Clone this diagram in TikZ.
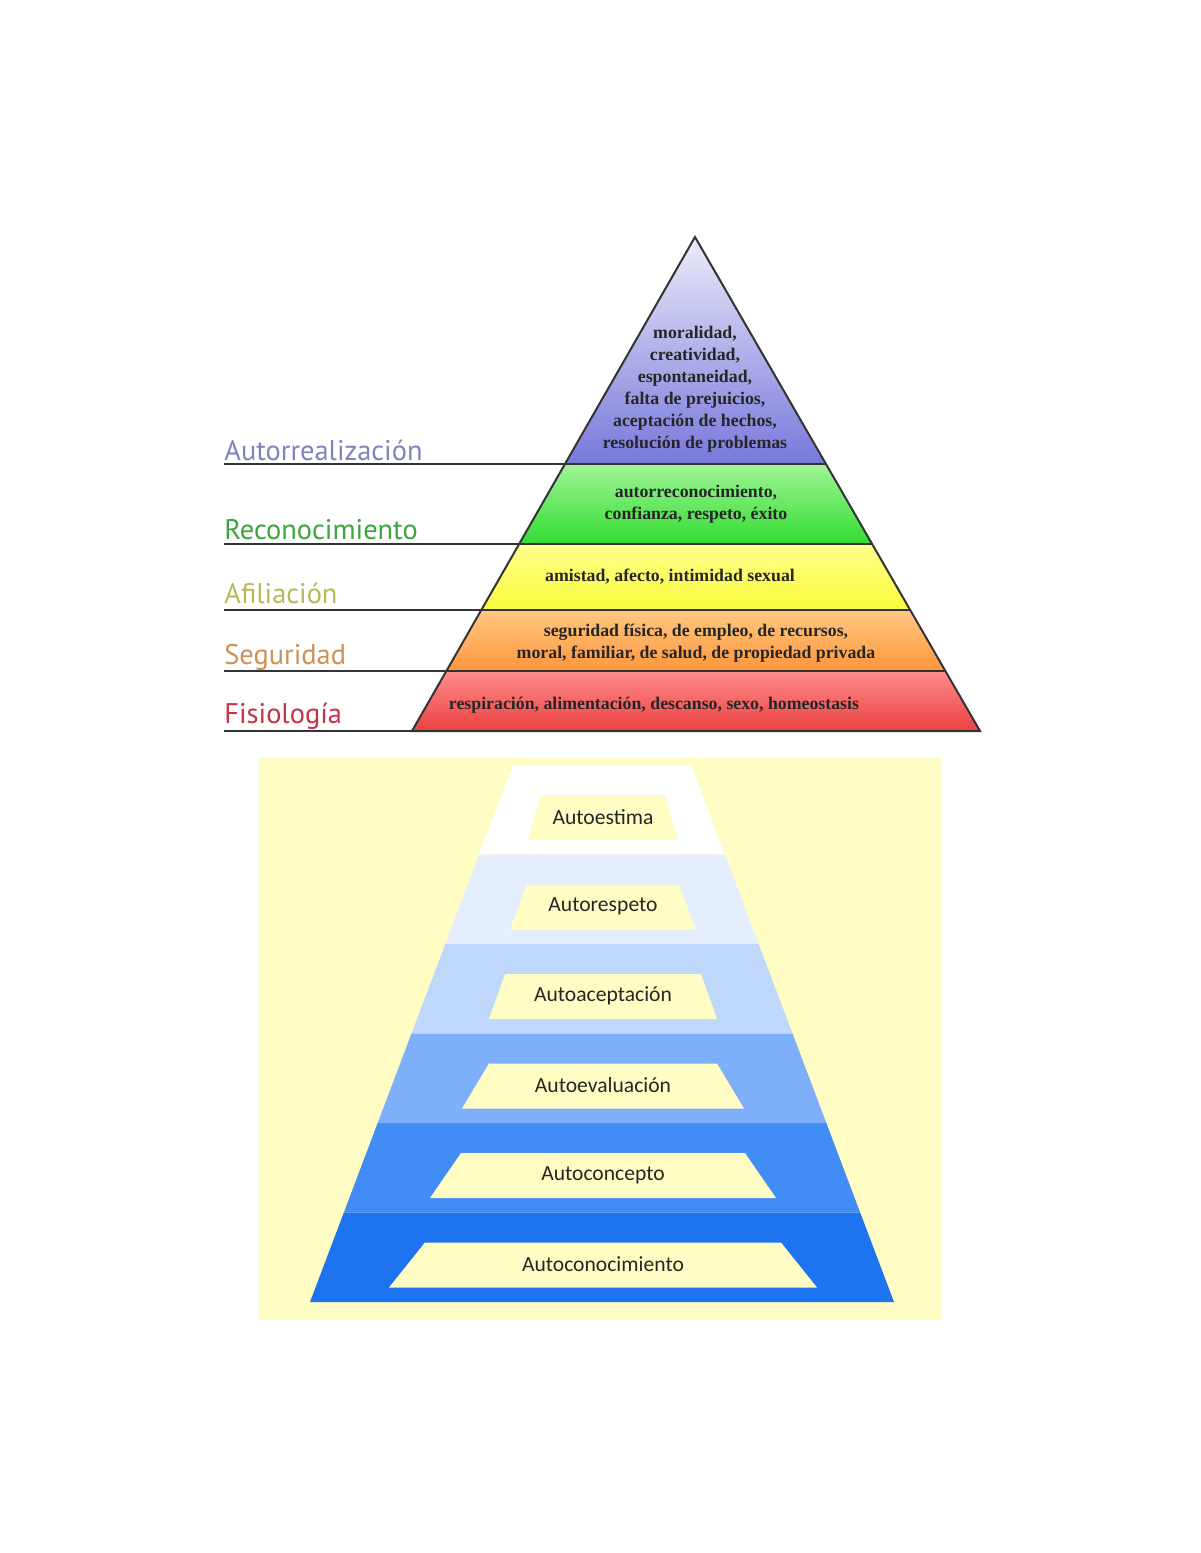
\documentclass[tikz,border=0pt]{standalone}
\usepackage{fontspec}
\setmainfont{Liberation Serif}
\newfontfamily\labfont{PT Sans}
\newfontfamily\carfont{Carlito}
\begin{document}
\begin{tikzpicture}[x=0.5pt,y=-0.5pt,
  lv/.style={font=\labfont\fontsize{14.2}{15}\selectfont,anchor=base west,inner sep=0pt},
  inner/.style={font=\bfseries\fontsize{8.9}{11}\selectfont,align=center,text=black!85,inner sep=0pt},
  band/.style={font=\carfont\fontsize{10.8}{12}\selectfont,text=black!85,inner sep=0pt},
  sep/.style={line width=1pt,black!80}]
\useasboundingbox (0,0) rectangle (1200,1553);
\fill[white] (0,0) rectangle (1200,1553);
\definecolor{cA}{RGB}{130,130,190}\definecolor{cR}{RGB}{60,165,60}
\definecolor{cF}{RGB}{185,185,90}\definecolor{cS}{RGB}{205,145,85}\definecolor{cP}{RGB}{200,50,70}
\definecolor{bgy}{RGB}{255,253,195}
% top pyramid
\coordinate (apex) at (695,237);
\shade[top color={rgb,255:red,235;green,235;blue,250},bottom color={rgb,255:red,120;green,120;blue,220}] (695,237) -- (826,464) -- (565,464) -- cycle;
\shade[top color={rgb,255:red,160;green,245;blue,150},bottom color={rgb,255:red,50;green,220;blue,50}] (565,464) -- (826,464) -- (872,544) -- (519,544) -- cycle;
\shade[top color={rgb,255:red,255;green,255;blue,140},bottom color={rgb,255:red,250;green,250;blue,60}] (519,544) -- (872,544) -- (910,610) -- (481,610) -- cycle;
\shade[top color={rgb,255:red,255;green,200;blue,130},bottom color={rgb,255:red,255;green,150;blue,60}] (481,610) -- (910,610) -- (945,671) -- (446,671) -- cycle;
\shade[top color={rgb,255:red,255;green,140;blue,140},bottom color={rgb,255:red,235;green,65;blue,65}] (446,671) -- (945,671) -- (980,731) -- (412,731) -- cycle;
\draw[sep] (apex) -- (980,731) -- (412,731) -- cycle;
\foreach \yy/\rr in {464/826,544/872,610/910,671/945}{
  \draw[sep] (224,\yy) -- (\rr,\yy);}
\draw[sep] (224,731) -- (412,731);
\node[lv,text=cA] (l1) at (224,460) {Autorrealización};
\node[lv,text=cR] (l2) at (224,539) {Reconocimiento};
\node[lv,text=cF] (l3) at (224,603) {Afiliación};
\node[lv,text=cS] (l4) at (224,664) {Seguridad};
\node[lv,text=cP] (l5) at (224,723) {Fisiología};
\node[inner] (t1) at (695,389) {moralidad,\\creatividad,\\espontaneidad,\\falta de prejuicios,\\aceptación de hechos,\\resolución de problemas};
\node[inner] (t2) at (696,504) {autorreconocimiento,\\confianza, respeto, éxito};
\node[inner] (t3) at (670,577) {amistad, afecto, intimidad sexual};
\node[inner] (t4) at (696,643) {seguridad física, de empleo, de recursos,\\moral, familiar, de salud, de propiedad privada};
\node[inner] (t5) at (654,705) {respiración, alimentación, descanso, sexo, homeostasis};
% bottom pyramid
\fill[bgy] (259,758) rectangle (941,1320);
\foreach \idx/\rc/\gc/\bc/\ia/\ibb/\txt in {
 0/255/255/255/62/75/Autoestima,
 1/228/238/252/76/93/Autorespeto,
 2/190/215/250/98/114/Autoaceptación,
 3/125/175/250/114/141/Autoevaluación,
 4/65/140/245/142/173/Autoconcepto,
 5/30/115/240/178/214/Autoconocimiento}{
  \pgfmathsetmacro\yt{765+89.5*\idx}
  \pgfmathsetmacro\yb{\yt+89.5}
  \pgfmathsetmacro\htop{89+(\yt-765)/537*203}
  \pgfmathsetmacro\hbot{89+(\yb-765)/537*203}
  \definecolor{bandc}{RGB}{\rc,\gc,\bc}
  \fill[bandc] (602-\htop,\yt) -- (602+\htop,\yt) -- (602+\hbot,\yb) -- (602-\hbot,\yb) -- cycle;
  \fill[bgy] (603-\ia,\yt+30) -- (603+\ia,\yt+30) -- (603+\ibb,\yt+75) -- (603-\ibb,\yt+75) -- cycle;
  \node[band] (b\idx) at (603,\yt+52) {\txt};
}
\end{tikzpicture}
\end{document}
